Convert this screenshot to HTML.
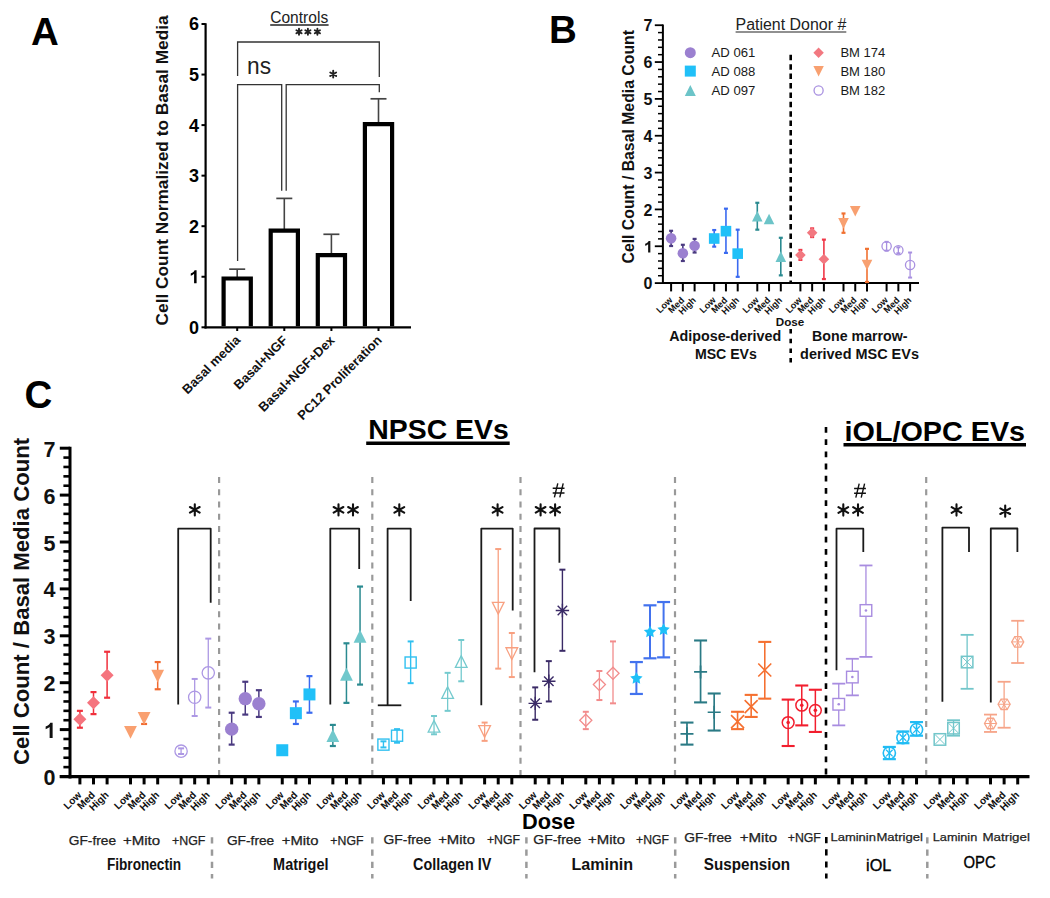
<!DOCTYPE html>
<html><head><meta charset="utf-8"><style>
html,body{margin:0;padding:0;background:#fff;}
svg{display:block;font-family:"Liberation Sans", sans-serif;}
</style></head><body>
<svg width="1050" height="898" viewBox="0 0 1050 898">
<rect width="1050" height="898" fill="#fff"/>
<text x="45" y="44.7" font-size="38.5" font-weight="bold" text-anchor="middle" fill="#000" >A</text>
<line x1="205.6" y1="23.2" x2="205.6" y2="328.4" stroke="#000" stroke-width="2.2" />
<line x1="201.5" y1="327.3" x2="205.6" y2="327.3" stroke="#000" stroke-width="2" />
<text x="199" y="333.7" font-size="18" font-weight="bold" text-anchor="end" fill="#000" >0</text>
<line x1="201.5" y1="276.75" x2="205.6" y2="276.75" stroke="#000" stroke-width="2" />
<path d="M194.09 283.15L196.59 283.15L196.59 270.26L194.61 270.26L194.18 271.05L193.42 271.92L192.2 272.78L190.76 273.43L190.76 275.73L192.02 275.19L193.2 274.51L194.09 273.86Z" fill="#000" stroke="none" stroke-width="1" />
<line x1="201.5" y1="226.2" x2="205.6" y2="226.2" stroke="#000" stroke-width="2" />
<text x="199" y="232.6" font-size="18" font-weight="bold" text-anchor="end" fill="#000" >2</text>
<line x1="201.5" y1="175.65" x2="205.6" y2="175.65" stroke="#000" stroke-width="2" />
<text x="199" y="182.05" font-size="18" font-weight="bold" text-anchor="end" fill="#000" >3</text>
<line x1="201.5" y1="125.1" x2="205.6" y2="125.1" stroke="#000" stroke-width="2" />
<text x="199" y="131.5" font-size="18" font-weight="bold" text-anchor="end" fill="#000" >4</text>
<line x1="201.5" y1="74.55" x2="205.6" y2="74.55" stroke="#000" stroke-width="2" />
<text x="199" y="80.95" font-size="18" font-weight="bold" text-anchor="end" fill="#000" >5</text>
<line x1="201.5" y1="24" x2="205.6" y2="24" stroke="#000" stroke-width="2" />
<text x="199" y="30.4" font-size="18" font-weight="bold" text-anchor="end" fill="#000" >6</text>
<line x1="204.5" y1="327.3" x2="411" y2="327.3" stroke="#000" stroke-width="2.2" />
<line x1="237.2" y1="327.3" x2="237.2" y2="331" stroke="#000" stroke-width="2" />
<line x1="237.2" y1="277.4" x2="237.2" y2="269.17" stroke="#444" stroke-width="1.6" />
<line x1="229.2" y1="269.17" x2="245.2" y2="269.17" stroke="#444" stroke-width="1.7" />
<rect x="223.6" y="278.5" width="27.2" height="47.5" fill="#fff"/>
<path d="M223.6 326.2V278.5H250.8V326.2" fill="none" stroke="#000" stroke-width="4.2" stroke-linejoin="miter"/>
<line x1="284.3" y1="327.3" x2="284.3" y2="331" stroke="#000" stroke-width="2" />
<line x1="284.3" y1="229.6" x2="284.3" y2="198.4" stroke="#444" stroke-width="1.6" />
<line x1="276.3" y1="198.4" x2="292.3" y2="198.4" stroke="#444" stroke-width="1.7" />
<rect x="270.7" y="230.7" width="27.2" height="95.3" fill="#fff"/>
<path d="M270.7 326.2V230.7H297.9V326.2" fill="none" stroke="#000" stroke-width="4.2" stroke-linejoin="miter"/>
<line x1="331.4" y1="327.3" x2="331.4" y2="331" stroke="#000" stroke-width="2" />
<line x1="331.4" y1="254" x2="331.4" y2="234.29" stroke="#444" stroke-width="1.6" />
<line x1="323.4" y1="234.29" x2="339.4" y2="234.29" stroke="#444" stroke-width="1.7" />
<rect x="317.8" y="255.1" width="27.2" height="70.9" fill="#fff"/>
<path d="M317.8 326.2V255.1H345V326.2" fill="none" stroke="#000" stroke-width="4.2" stroke-linejoin="miter"/>
<line x1="378.5" y1="327.3" x2="378.5" y2="331" stroke="#000" stroke-width="2" />
<line x1="378.5" y1="123" x2="378.5" y2="98.81" stroke="#444" stroke-width="1.6" />
<line x1="370.5" y1="98.81" x2="386.5" y2="98.81" stroke="#444" stroke-width="1.7" />
<rect x="364.9" y="124.1" width="27.2" height="201.9" fill="#fff"/>
<path d="M364.9 326.2V124.1H392.1V326.2" fill="none" stroke="#000" stroke-width="4.2" stroke-linejoin="miter"/>
<path d="M237.6 76V42H379.3V77" fill="none" stroke="#333" stroke-width="1.3" />
<path d="M237.6 261V84.6H281.7V190.7" fill="none" stroke="#333" stroke-width="1.3" />
<path d="M286.2 190.7V84.6H379.3V92.2" fill="none" stroke="#333" stroke-width="1.3" />
<text x="259" y="73.8" font-size="24" font-weight="normal" text-anchor="middle" fill="#222" textLength="24" lengthAdjust="spacingAndGlyphs" >ns</text>
<path d="M333.2 70.8L333.2 77.6M330.26 72.5L336.14 75.9M336.14 72.5L330.26 75.9" fill="none" stroke="#222" stroke-width="1.9" stroke-linecap="round"/>
<path d="M299 28.7L299 34.7M296.4 30.2L301.6 33.2M301.6 30.2L296.4 33.2" fill="none" stroke="#222" stroke-width="1.9" stroke-linecap="round"/>
<path d="M307.9 28.7L307.9 34.7M305.3 30.2L310.5 33.2M310.5 30.2L305.3 33.2" fill="none" stroke="#222" stroke-width="1.9" stroke-linecap="round"/>
<path d="M317.4 28.7L317.4 34.7M314.8 30.2L320 33.2M320 30.2L314.8 33.2" fill="none" stroke="#222" stroke-width="1.9" stroke-linecap="round"/>
<text x="299.2" y="23.1" font-size="16.5" font-weight="normal" text-anchor="middle" fill="#222" textLength="58" lengthAdjust="spacingAndGlyphs" >Controls</text>
<line x1="270.2" y1="25" x2="328.6" y2="25" stroke="#222" stroke-width="1.6" />
<text x="168.4" y="170.4" font-size="17" font-weight="bold" text-anchor="middle" fill="#111" textLength="310" lengthAdjust="spacingAndGlyphs" transform="rotate(-90 168.4 170.4)" >Cell Count Normalized to Basal Media</text>
<text x="241.2" y="341" font-size="13" font-weight="bold" text-anchor="end" fill="#111" transform="rotate(-45 241.2 341)" >Basal media</text>
<text x="288.3" y="341" font-size="13" font-weight="bold" text-anchor="end" fill="#111" transform="rotate(-45 288.3 341)" >Basal+NGF</text>
<text x="335.4" y="341" font-size="13" font-weight="bold" text-anchor="end" fill="#111" transform="rotate(-45 335.4 341)" >Basal+NGF+Dex</text>
<text x="382.5" y="341" font-size="13" font-weight="bold" text-anchor="end" fill="#111" transform="rotate(-45 382.5 341)" >PC12 Proliferation</text>
<text x="563" y="42.7" font-size="38.5" font-weight="bold" text-anchor="middle" fill="#000" >B</text>
<line x1="662.9" y1="24.5" x2="662.9" y2="284.1" stroke="#000" stroke-width="2" />
<line x1="654.8" y1="283.1" x2="662.9" y2="283.1" stroke="#000" stroke-width="1.8" />
<text x="652.5" y="289.3" font-size="16" font-weight="bold" text-anchor="end" fill="#111" >0</text>
<line x1="658" y1="275.73" x2="662.9" y2="275.73" stroke="#000" stroke-width="1.5" />
<line x1="658" y1="268.36" x2="662.9" y2="268.36" stroke="#000" stroke-width="1.5" />
<line x1="658" y1="261" x2="662.9" y2="261" stroke="#000" stroke-width="1.5" />
<line x1="658" y1="253.63" x2="662.9" y2="253.63" stroke="#000" stroke-width="1.5" />
<line x1="654.8" y1="246.26" x2="662.9" y2="246.26" stroke="#000" stroke-width="1.8" />
<path d="M648.13 252.46L650.36 252.46L650.36 241L648.6 241L648.21 241.71L647.54 242.48L646.45 243.24L645.17 243.82L645.17 245.87L646.29 245.39L647.35 244.78L648.13 244.2Z" fill="#111" stroke="none" stroke-width="1" />
<line x1="658" y1="238.89" x2="662.9" y2="238.89" stroke="#000" stroke-width="1.5" />
<line x1="658" y1="231.52" x2="662.9" y2="231.52" stroke="#000" stroke-width="1.5" />
<line x1="658" y1="224.16" x2="662.9" y2="224.16" stroke="#000" stroke-width="1.5" />
<line x1="658" y1="216.79" x2="662.9" y2="216.79" stroke="#000" stroke-width="1.5" />
<line x1="654.8" y1="209.42" x2="662.9" y2="209.42" stroke="#000" stroke-width="1.8" />
<text x="652.5" y="215.62" font-size="16" font-weight="bold" text-anchor="end" fill="#111" >2</text>
<line x1="658" y1="202.05" x2="662.9" y2="202.05" stroke="#000" stroke-width="1.5" />
<line x1="658" y1="194.68" x2="662.9" y2="194.68" stroke="#000" stroke-width="1.5" />
<line x1="658" y1="187.32" x2="662.9" y2="187.32" stroke="#000" stroke-width="1.5" />
<line x1="658" y1="179.95" x2="662.9" y2="179.95" stroke="#000" stroke-width="1.5" />
<line x1="654.8" y1="172.58" x2="662.9" y2="172.58" stroke="#000" stroke-width="1.8" />
<text x="652.5" y="178.78" font-size="16" font-weight="bold" text-anchor="end" fill="#111" >3</text>
<line x1="658" y1="165.21" x2="662.9" y2="165.21" stroke="#000" stroke-width="1.5" />
<line x1="658" y1="157.84" x2="662.9" y2="157.84" stroke="#000" stroke-width="1.5" />
<line x1="658" y1="150.48" x2="662.9" y2="150.48" stroke="#000" stroke-width="1.5" />
<line x1="658" y1="143.11" x2="662.9" y2="143.11" stroke="#000" stroke-width="1.5" />
<line x1="654.8" y1="135.74" x2="662.9" y2="135.74" stroke="#000" stroke-width="1.8" />
<text x="652.5" y="141.94" font-size="16" font-weight="bold" text-anchor="end" fill="#111" >4</text>
<line x1="658" y1="128.37" x2="662.9" y2="128.37" stroke="#000" stroke-width="1.5" />
<line x1="658" y1="121" x2="662.9" y2="121" stroke="#000" stroke-width="1.5" />
<line x1="658" y1="113.64" x2="662.9" y2="113.64" stroke="#000" stroke-width="1.5" />
<line x1="658" y1="106.27" x2="662.9" y2="106.27" stroke="#000" stroke-width="1.5" />
<line x1="654.8" y1="98.9" x2="662.9" y2="98.9" stroke="#000" stroke-width="1.8" />
<text x="652.5" y="105.1" font-size="16" font-weight="bold" text-anchor="end" fill="#111" >5</text>
<line x1="658" y1="91.53" x2="662.9" y2="91.53" stroke="#000" stroke-width="1.5" />
<line x1="658" y1="84.16" x2="662.9" y2="84.16" stroke="#000" stroke-width="1.5" />
<line x1="658" y1="76.8" x2="662.9" y2="76.8" stroke="#000" stroke-width="1.5" />
<line x1="658" y1="69.43" x2="662.9" y2="69.43" stroke="#000" stroke-width="1.5" />
<line x1="654.8" y1="62.06" x2="662.9" y2="62.06" stroke="#000" stroke-width="1.8" />
<text x="652.5" y="68.26" font-size="16" font-weight="bold" text-anchor="end" fill="#111" >6</text>
<line x1="658" y1="54.69" x2="662.9" y2="54.69" stroke="#000" stroke-width="1.5" />
<line x1="658" y1="47.32" x2="662.9" y2="47.32" stroke="#000" stroke-width="1.5" />
<line x1="658" y1="39.96" x2="662.9" y2="39.96" stroke="#000" stroke-width="1.5" />
<line x1="658" y1="32.59" x2="662.9" y2="32.59" stroke="#000" stroke-width="1.5" />
<line x1="654.8" y1="25.22" x2="662.9" y2="25.22" stroke="#000" stroke-width="1.8" />
<text x="652.5" y="31.42" font-size="16" font-weight="bold" text-anchor="end" fill="#111" >7</text>
<line x1="662" y1="283.1" x2="919" y2="283.1" stroke="#000" stroke-width="2" />
<line x1="671.1" y1="283.1" x2="671.1" y2="291.4" stroke="#000" stroke-width="2" />
<text x="673.1" y="300.8" font-size="9.2" font-weight="bold" text-anchor="end" fill="#111" transform="rotate(-45 673.1 300.8)" >Low</text>
<line x1="671.1" y1="246" x2="671.1" y2="230.79" stroke="#4a3a80" stroke-width="1.6" />
<line x1="669.1" y1="246" x2="673.1" y2="246" stroke="#4a3a80" stroke-width="2.2" />
<line x1="669.1" y1="230.79" x2="673.1" y2="230.79" stroke="#4a3a80" stroke-width="2.2" />
<circle cx="671.1" cy="238.34" r="5.3" fill="#9b80d0" stroke="none" stroke-width="1"/>
<line x1="682.85" y1="283.1" x2="682.85" y2="291.4" stroke="#000" stroke-width="2" />
<text x="684.85" y="300.8" font-size="9.2" font-weight="bold" text-anchor="end" fill="#111" transform="rotate(-45 684.85 300.8)" >Med</text>
<line x1="682.85" y1="261" x2="682.85" y2="244.79" stroke="#4a3a80" stroke-width="1.6" />
<line x1="680.85" y1="261" x2="684.85" y2="261" stroke="#4a3a80" stroke-width="2.2" />
<line x1="680.85" y1="244.79" x2="684.85" y2="244.79" stroke="#4a3a80" stroke-width="2.2" />
<circle cx="682.85" cy="253.26" r="5.3" fill="#9b80d0" stroke="none" stroke-width="1"/>
<line x1="694.6" y1="283.1" x2="694.6" y2="291.4" stroke="#000" stroke-width="2" />
<text x="696.6" y="300.8" font-size="9.2" font-weight="bold" text-anchor="end" fill="#111" transform="rotate(-45 696.6 300.8)" >High</text>
<line x1="694.6" y1="252.52" x2="694.6" y2="238.89" stroke="#4a3a80" stroke-width="1.6" />
<line x1="692.6" y1="252.52" x2="696.6" y2="252.52" stroke="#4a3a80" stroke-width="2.2" />
<line x1="692.6" y1="238.89" x2="696.6" y2="238.89" stroke="#4a3a80" stroke-width="2.2" />
<circle cx="694.6" cy="245.71" r="5.3" fill="#9b80d0" stroke="none" stroke-width="1"/>
<line x1="714.2" y1="283.1" x2="714.2" y2="291.4" stroke="#000" stroke-width="2" />
<text x="716.2" y="300.8" font-size="9.2" font-weight="bold" text-anchor="end" fill="#111" transform="rotate(-45 716.2 300.8)" >Low</text>
<line x1="714.2" y1="246.63" x2="714.2" y2="230.05" stroke="#3a6af0" stroke-width="1.6" />
<line x1="712.2" y1="246.63" x2="716.2" y2="246.63" stroke="#3a6af0" stroke-width="2.2" />
<line x1="712.2" y1="230.05" x2="716.2" y2="230.05" stroke="#3a6af0" stroke-width="2.2" />
<rect x="708.9" y="233.22" width="10.6" height="10.6" fill="#20c0f8" />
<line x1="725.95" y1="283.1" x2="725.95" y2="291.4" stroke="#000" stroke-width="2" />
<text x="727.95" y="300.8" font-size="9.2" font-weight="bold" text-anchor="end" fill="#111" transform="rotate(-45 727.95 300.8)" >Med</text>
<line x1="725.95" y1="252.89" x2="725.95" y2="208.68" stroke="#3a6af0" stroke-width="1.6" />
<line x1="723.95" y1="252.89" x2="727.95" y2="252.89" stroke="#3a6af0" stroke-width="2.2" />
<line x1="723.95" y1="208.68" x2="727.95" y2="208.68" stroke="#3a6af0" stroke-width="2.2" />
<rect x="720.65" y="225.86" width="10.6" height="10.6" fill="#20c0f8" />
<line x1="737.7" y1="283.1" x2="737.7" y2="291.4" stroke="#000" stroke-width="2" />
<text x="739.7" y="300.8" font-size="9.2" font-weight="bold" text-anchor="end" fill="#111" transform="rotate(-45 739.7 300.8)" >High</text>
<line x1="737.7" y1="276.84" x2="737.7" y2="229.68" stroke="#3a6af0" stroke-width="1.6" />
<line x1="735.7" y1="276.84" x2="739.7" y2="276.84" stroke="#3a6af0" stroke-width="2.2" />
<line x1="735.7" y1="229.68" x2="739.7" y2="229.68" stroke="#3a6af0" stroke-width="2.2" />
<rect x="732.4" y="248.33" width="10.6" height="10.6" fill="#20c0f8" />
<line x1="757.3" y1="283.1" x2="757.3" y2="291.4" stroke="#000" stroke-width="2" />
<text x="759.3" y="300.8" font-size="9.2" font-weight="bold" text-anchor="end" fill="#111" transform="rotate(-45 759.3 300.8)" >Low</text>
<line x1="757.3" y1="229.68" x2="757.3" y2="202.79" stroke="#2a8a90" stroke-width="1.6" />
<line x1="755.3" y1="229.68" x2="759.3" y2="229.68" stroke="#2a8a90" stroke-width="2.2" />
<line x1="755.3" y1="202.79" x2="759.3" y2="202.79" stroke="#2a8a90" stroke-width="2.2" />
<path d="M757.3 210.9L762.6 221.5L752 221.5Z" fill="#6cc4c8" stroke="none" stroke-width="1" />
<line x1="769.05" y1="283.1" x2="769.05" y2="291.4" stroke="#000" stroke-width="2" />
<text x="771.05" y="300.8" font-size="9.2" font-weight="bold" text-anchor="end" fill="#111" transform="rotate(-45 771.05 300.8)" >Med</text>
<path d="M769.05 213.7L774.35 224.3L763.75 224.3Z" fill="#6cc4c8" stroke="none" stroke-width="1" />
<line x1="780.8" y1="283.1" x2="780.8" y2="291.4" stroke="#000" stroke-width="2" />
<text x="782.8" y="300.8" font-size="9.2" font-weight="bold" text-anchor="end" fill="#111" transform="rotate(-45 782.8 300.8)" >High</text>
<line x1="780.8" y1="275.36" x2="780.8" y2="237.79" stroke="#2a8a90" stroke-width="1.6" />
<line x1="778.8" y1="275.36" x2="782.8" y2="275.36" stroke="#2a8a90" stroke-width="2.2" />
<line x1="778.8" y1="237.79" x2="782.8" y2="237.79" stroke="#2a8a90" stroke-width="2.2" />
<path d="M780.8 251.28L786.1 261.88L775.5 261.88Z" fill="#6cc4c8" stroke="none" stroke-width="1" />
<line x1="800.4" y1="283.1" x2="800.4" y2="291.4" stroke="#000" stroke-width="2" />
<text x="802.4" y="300.8" font-size="9.2" font-weight="bold" text-anchor="end" fill="#111" transform="rotate(-45 802.4 300.8)" >Low</text>
<line x1="800.4" y1="259.89" x2="800.4" y2="249.94" stroke="#f03848" stroke-width="1.6" />
<line x1="798.4" y1="259.89" x2="802.4" y2="259.89" stroke="#f03848" stroke-width="2.2" />
<line x1="798.4" y1="249.94" x2="802.4" y2="249.94" stroke="#f03848" stroke-width="2.2" />
<path d="M800.4 249.8L805.7 255.1L800.4 260.4L795.1 255.1Z" fill="#f27880" stroke="none" stroke-width="1" />
<line x1="812.15" y1="283.1" x2="812.15" y2="291.4" stroke="#000" stroke-width="2" />
<text x="814.15" y="300.8" font-size="9.2" font-weight="bold" text-anchor="end" fill="#111" transform="rotate(-45 814.15 300.8)" >Med</text>
<line x1="812.15" y1="237.05" x2="812.15" y2="228.39" stroke="#f03848" stroke-width="1.6" />
<line x1="810.15" y1="237.05" x2="814.15" y2="237.05" stroke="#f03848" stroke-width="2.2" />
<line x1="810.15" y1="228.39" x2="814.15" y2="228.39" stroke="#f03848" stroke-width="2.2" />
<path d="M812.15 227.51L817.45 232.81L812.15 238.11L806.85 232.81Z" fill="#f27880" stroke="none" stroke-width="1" />
<line x1="823.9" y1="283.1" x2="823.9" y2="291.4" stroke="#000" stroke-width="2" />
<text x="825.9" y="300.8" font-size="9.2" font-weight="bold" text-anchor="end" fill="#111" transform="rotate(-45 825.9 300.8)" >High</text>
<line x1="823.9" y1="279.05" x2="823.9" y2="239.63" stroke="#f03848" stroke-width="1.6" />
<line x1="821.9" y1="279.05" x2="825.9" y2="279.05" stroke="#f03848" stroke-width="2.2" />
<line x1="821.9" y1="239.63" x2="825.9" y2="239.63" stroke="#f03848" stroke-width="2.2" />
<path d="M823.9 253.85L829.2 259.15L823.9 264.45L818.6 259.15Z" fill="#f27880" stroke="none" stroke-width="1" />
<line x1="843.5" y1="283.1" x2="843.5" y2="291.4" stroke="#000" stroke-width="2" />
<text x="845.5" y="300.8" font-size="9.2" font-weight="bold" text-anchor="end" fill="#111" transform="rotate(-45 845.5 300.8)" >Low</text>
<line x1="843.5" y1="232.81" x2="843.5" y2="213.47" stroke="#f07030" stroke-width="1.6" />
<line x1="841.5" y1="232.81" x2="845.5" y2="232.81" stroke="#f07030" stroke-width="2.2" />
<line x1="841.5" y1="213.47" x2="845.5" y2="213.47" stroke="#f07030" stroke-width="2.2" />
<path d="M838.2 218.12L848.8 218.12L843.5 228.72Z" fill="#f8a070" stroke="none" stroke-width="1" />
<line x1="855.25" y1="283.1" x2="855.25" y2="291.4" stroke="#000" stroke-width="2" />
<text x="857.25" y="300.8" font-size="9.2" font-weight="bold" text-anchor="end" fill="#111" transform="rotate(-45 857.25 300.8)" >Med</text>
<path d="M849.95 205.96L860.55 205.96L855.25 216.56Z" fill="#f8a070" stroke="none" stroke-width="1" />
<line x1="867" y1="283.1" x2="867" y2="291.4" stroke="#000" stroke-width="2" />
<text x="869" y="300.8" font-size="9.2" font-weight="bold" text-anchor="end" fill="#111" transform="rotate(-45 869 300.8)" >High</text>
<line x1="867" y1="281.99" x2="867" y2="248.84" stroke="#f07030" stroke-width="1.6" />
<line x1="865" y1="281.99" x2="869" y2="281.99" stroke="#f07030" stroke-width="2.2" />
<line x1="865" y1="248.84" x2="869" y2="248.84" stroke="#f07030" stroke-width="2.2" />
<path d="M861.7 259.75L872.3 259.75L867 270.35Z" fill="#f8a070" stroke="none" stroke-width="1" />
<line x1="886.6" y1="283.1" x2="886.6" y2="291.4" stroke="#000" stroke-width="2" />
<text x="888.6" y="300.8" font-size="9.2" font-weight="bold" text-anchor="end" fill="#111" transform="rotate(-45 888.6 300.8)" >Low</text>
<circle cx="886.6" cy="246.26" r="4.65" fill="none" stroke="#a890e0" stroke-width="1.3"/>
<line x1="886.6" y1="250.68" x2="886.6" y2="241.84" stroke="#a890e0" stroke-width="1.3" />
<line x1="884.6" y1="250.68" x2="888.6" y2="250.68" stroke="#a890e0" stroke-width="2" />
<line x1="884.6" y1="241.84" x2="888.6" y2="241.84" stroke="#a890e0" stroke-width="2" />
<line x1="898.35" y1="283.1" x2="898.35" y2="291.4" stroke="#000" stroke-width="2" />
<text x="900.35" y="300.8" font-size="9.2" font-weight="bold" text-anchor="end" fill="#111" transform="rotate(-45 900.35 300.8)" >Med</text>
<circle cx="898.35" cy="250.31" r="4.65" fill="none" stroke="#a890e0" stroke-width="1.3"/>
<line x1="898.35" y1="253.26" x2="898.35" y2="247.37" stroke="#a890e0" stroke-width="1.3" />
<line x1="896.35" y1="253.26" x2="900.35" y2="253.26" stroke="#a890e0" stroke-width="2" />
<line x1="896.35" y1="247.37" x2="900.35" y2="247.37" stroke="#a890e0" stroke-width="2" />
<line x1="910.1" y1="283.1" x2="910.1" y2="291.4" stroke="#000" stroke-width="2" />
<text x="912.1" y="300.8" font-size="9.2" font-weight="bold" text-anchor="end" fill="#111" transform="rotate(-45 912.1 300.8)" >High</text>
<circle cx="910.1" cy="265.05" r="4.65" fill="none" stroke="#a890e0" stroke-width="1.3"/>
<line x1="910.1" y1="277.57" x2="910.1" y2="252.52" stroke="#a890e0" stroke-width="1.3" />
<line x1="908.1" y1="277.57" x2="912.1" y2="277.57" stroke="#a890e0" stroke-width="2" />
<line x1="908.1" y1="252.52" x2="912.1" y2="252.52" stroke="#a890e0" stroke-width="2" />
<line x1="790.7" y1="54.8" x2="790.7" y2="283" stroke="#000" stroke-width="2.6" stroke-dasharray="5.5 3.9"/>
<line x1="790.7" y1="329" x2="790.7" y2="362.5" stroke="#000" stroke-width="2.6" stroke-dasharray="4.5 5.2"/>
<text x="790.9" y="29.8" font-size="16" font-weight="normal" text-anchor="middle" fill="#222" textLength="110.7" lengthAdjust="spacingAndGlyphs" >Patient Donor #</text>
<line x1="735.6" y1="32" x2="846.3" y2="32" stroke="#222" stroke-width="1.1" />
<circle cx="690.3" cy="52.7" r="5.5" fill="#9b80d0" stroke="none" stroke-width="1"/>
<text x="711.6" y="57.2" font-size="13.6" font-weight="normal" text-anchor="start" fill="#1a1a1a" textLength="43.8" lengthAdjust="spacingAndGlyphs" >AD 061</text>
<path d="M818.6 47.6L823.8 52.8L818.6 58L813.4 52.8Z" fill="#f27880" stroke="none" stroke-width="1" />
<text x="840.4" y="57.2" font-size="13.6" font-weight="normal" text-anchor="start" fill="#1a1a1a" textLength="45" lengthAdjust="spacingAndGlyphs" >BM 174</text>
<rect x="684.8" y="65.6" width="11" height="11" fill="#20c0f8" />
<text x="711.6" y="75.6" font-size="13.6" font-weight="normal" text-anchor="start" fill="#1a1a1a" textLength="43.8" lengthAdjust="spacingAndGlyphs" >AD 088</text>
<path d="M813.4 66L823.8 66L818.6 76.4Z" fill="#f8a070" stroke="none" stroke-width="1" />
<text x="840.4" y="75.6" font-size="13.6" font-weight="normal" text-anchor="start" fill="#1a1a1a" textLength="45" lengthAdjust="spacingAndGlyphs" >BM 180</text>
<path d="M690.3 84.9L695.8 95.9L684.8 95.9Z" fill="#6cc4c8" stroke="none" stroke-width="1" />
<text x="711.6" y="94.9" font-size="13.6" font-weight="normal" text-anchor="start" fill="#1a1a1a" textLength="43.8" lengthAdjust="spacingAndGlyphs" >AD 097</text>
<circle cx="818.6" cy="90.5" r="4.55" fill="none" stroke="#a890e0" stroke-width="1.3"/>
<text x="840.4" y="94.9" font-size="13.6" font-weight="normal" text-anchor="start" fill="#1a1a1a" textLength="45" lengthAdjust="spacingAndGlyphs" >BM 182</text>
<text x="634" y="146.75" font-size="15.8" font-weight="bold" text-anchor="middle" fill="#111" textLength="233.5" lengthAdjust="spacingAndGlyphs" transform="rotate(-90 634 146.75)" >Cell Count / Basal Media Count</text>
<text x="790" y="325.7" font-size="10.8" font-weight="bold" text-anchor="middle" fill="#111" textLength="28.5" lengthAdjust="spacingAndGlyphs" >Dose</text>
<text x="725.2" y="341.4" font-size="14.3" font-weight="bold" text-anchor="middle" fill="#111" textLength="112" lengthAdjust="spacingAndGlyphs" >Adipose-derived</text>
<text x="725.9" y="358.6" font-size="14.3" font-weight="bold" text-anchor="middle" fill="#111" textLength="62" lengthAdjust="spacingAndGlyphs" >MSC EVs</text>
<text x="859.8" y="341.4" font-size="14.3" font-weight="bold" text-anchor="middle" fill="#111" textLength="95.6" lengthAdjust="spacingAndGlyphs" >Bone marrow-</text>
<text x="859.5" y="358.6" font-size="14.3" font-weight="bold" text-anchor="middle" fill="#111" textLength="118.9" lengthAdjust="spacingAndGlyphs" >derived MSC EVs</text>
<text x="38.4" y="408" font-size="38.5" font-weight="bold" text-anchor="middle" fill="#000" >C</text>
<text x="438.5" y="439.4" font-size="28.5" font-weight="bold" text-anchor="middle" fill="#000" textLength="140.4" lengthAdjust="spacingAndGlyphs" >NPSC EVs</text>
<line x1="366.2" y1="443.3" x2="509.7" y2="443.3" stroke="#000" stroke-width="3.4" />
<text x="934.8" y="441" font-size="28.5" font-weight="bold" text-anchor="middle" fill="#000" textLength="180.5" lengthAdjust="spacingAndGlyphs" >iOL/OPC EVs</text>
<line x1="843.5" y1="444.8" x2="1026" y2="444.8" stroke="#000" stroke-width="3.4" />
<line x1="219.1" y1="477.1" x2="219.1" y2="775" stroke="#999" stroke-width="2.2" stroke-dasharray="6 6.2"/>
<line x1="372.3" y1="477.1" x2="372.3" y2="775" stroke="#999" stroke-width="2.2" stroke-dasharray="6 6.2"/>
<line x1="520.5" y1="477.1" x2="520.5" y2="775" stroke="#999" stroke-width="2.2" stroke-dasharray="6 6.2"/>
<line x1="675" y1="477.1" x2="675" y2="775" stroke="#999" stroke-width="2.2" stroke-dasharray="6 6.2"/>
<line x1="826" y1="427" x2="826" y2="775" stroke="#000" stroke-width="2.6" stroke-dasharray="5.8 6.4"/>
<line x1="926.2" y1="477.1" x2="926.2" y2="775" stroke="#999" stroke-width="2.2" stroke-dasharray="6 6.2"/>
<line x1="70" y1="446.7" x2="70" y2="778.4" stroke="#000" stroke-width="3" />
<line x1="59.8" y1="776.5" x2="70" y2="776.5" stroke="#000" stroke-width="3" />
<text x="55.5" y="785" font-size="21.5" font-weight="bold" text-anchor="end" fill="#111" >0</text>
<line x1="63.4" y1="767.12" x2="70" y2="767.12" stroke="#000" stroke-width="2.6" />
<line x1="63.4" y1="757.74" x2="70" y2="757.74" stroke="#000" stroke-width="2.6" />
<line x1="63.4" y1="748.36" x2="70" y2="748.36" stroke="#000" stroke-width="2.6" />
<line x1="63.4" y1="738.98" x2="70" y2="738.98" stroke="#000" stroke-width="2.6" />
<line x1="59.8" y1="729.6" x2="70" y2="729.6" stroke="#000" stroke-width="3" />
<path d="M49.63 738.1L52.62 738.1L52.62 722.71L50.25 722.71L49.74 723.65L48.84 724.68L47.37 725.72L45.65 726.49L45.65 729.24L47.16 728.6L48.58 727.78L49.63 727.01Z" fill="#111" stroke="none" stroke-width="1" />
<line x1="63.4" y1="720.22" x2="70" y2="720.22" stroke="#000" stroke-width="2.6" />
<line x1="63.4" y1="710.84" x2="70" y2="710.84" stroke="#000" stroke-width="2.6" />
<line x1="63.4" y1="701.46" x2="70" y2="701.46" stroke="#000" stroke-width="2.6" />
<line x1="63.4" y1="692.08" x2="70" y2="692.08" stroke="#000" stroke-width="2.6" />
<line x1="59.8" y1="682.7" x2="70" y2="682.7" stroke="#000" stroke-width="3" />
<text x="55.5" y="691.2" font-size="21.5" font-weight="bold" text-anchor="end" fill="#111" >2</text>
<line x1="63.4" y1="673.32" x2="70" y2="673.32" stroke="#000" stroke-width="2.6" />
<line x1="63.4" y1="663.94" x2="70" y2="663.94" stroke="#000" stroke-width="2.6" />
<line x1="63.4" y1="654.56" x2="70" y2="654.56" stroke="#000" stroke-width="2.6" />
<line x1="63.4" y1="645.18" x2="70" y2="645.18" stroke="#000" stroke-width="2.6" />
<line x1="59.8" y1="635.8" x2="70" y2="635.8" stroke="#000" stroke-width="3" />
<text x="55.5" y="644.3" font-size="21.5" font-weight="bold" text-anchor="end" fill="#111" >3</text>
<line x1="63.4" y1="626.42" x2="70" y2="626.42" stroke="#000" stroke-width="2.6" />
<line x1="63.4" y1="617.04" x2="70" y2="617.04" stroke="#000" stroke-width="2.6" />
<line x1="63.4" y1="607.66" x2="70" y2="607.66" stroke="#000" stroke-width="2.6" />
<line x1="63.4" y1="598.28" x2="70" y2="598.28" stroke="#000" stroke-width="2.6" />
<line x1="59.8" y1="588.9" x2="70" y2="588.9" stroke="#000" stroke-width="3" />
<text x="55.5" y="597.4" font-size="21.5" font-weight="bold" text-anchor="end" fill="#111" >4</text>
<line x1="63.4" y1="579.52" x2="70" y2="579.52" stroke="#000" stroke-width="2.6" />
<line x1="63.4" y1="570.14" x2="70" y2="570.14" stroke="#000" stroke-width="2.6" />
<line x1="63.4" y1="560.76" x2="70" y2="560.76" stroke="#000" stroke-width="2.6" />
<line x1="63.4" y1="551.38" x2="70" y2="551.38" stroke="#000" stroke-width="2.6" />
<line x1="59.8" y1="542" x2="70" y2="542" stroke="#000" stroke-width="3" />
<text x="55.5" y="550.5" font-size="21.5" font-weight="bold" text-anchor="end" fill="#111" >5</text>
<line x1="63.4" y1="532.62" x2="70" y2="532.62" stroke="#000" stroke-width="2.6" />
<line x1="63.4" y1="523.24" x2="70" y2="523.24" stroke="#000" stroke-width="2.6" />
<line x1="63.4" y1="513.86" x2="70" y2="513.86" stroke="#000" stroke-width="2.6" />
<line x1="63.4" y1="504.48" x2="70" y2="504.48" stroke="#000" stroke-width="2.6" />
<line x1="59.8" y1="495.1" x2="70" y2="495.1" stroke="#000" stroke-width="3" />
<text x="55.5" y="503.6" font-size="21.5" font-weight="bold" text-anchor="end" fill="#111" >6</text>
<line x1="63.4" y1="485.72" x2="70" y2="485.72" stroke="#000" stroke-width="2.6" />
<line x1="63.4" y1="476.34" x2="70" y2="476.34" stroke="#000" stroke-width="2.6" />
<line x1="63.4" y1="466.96" x2="70" y2="466.96" stroke="#000" stroke-width="2.6" />
<line x1="63.4" y1="457.58" x2="70" y2="457.58" stroke="#000" stroke-width="2.6" />
<line x1="59.8" y1="448.2" x2="70" y2="448.2" stroke="#000" stroke-width="3" />
<text x="55.5" y="456.7" font-size="21.5" font-weight="bold" text-anchor="end" fill="#111" >7</text>
<line x1="59.8" y1="776.7" x2="1029.5" y2="776.7" stroke="#000" stroke-width="3.3" />
<line x1="79.9" y1="776.7" x2="79.9" y2="784.4" stroke="#000" stroke-width="3" />
<text x="82.1" y="795.6" font-size="10.2" font-weight="bold" text-anchor="end" fill="#111" transform="rotate(-45 82.1 795.6)" >Low</text>
<line x1="79.9" y1="727.72" x2="79.9" y2="710.84" stroke="#f0303c" stroke-width="1.5" />
<line x1="76.9" y1="727.72" x2="82.9" y2="727.72" stroke="#f0303c" stroke-width="2.2" />
<line x1="76.9" y1="710.84" x2="82.9" y2="710.84" stroke="#f0303c" stroke-width="2.2" />
<path d="M79.9 712.78L86.4 719.28L79.9 725.78L73.4 719.28Z" fill="#f5747e" stroke="none" stroke-width="1" />
<line x1="93.5" y1="776.7" x2="93.5" y2="784.4" stroke="#000" stroke-width="3" />
<text x="95.7" y="795.6" font-size="10.2" font-weight="bold" text-anchor="end" fill="#111" transform="rotate(-45 95.7 795.6)" >Med</text>
<line x1="93.5" y1="714.12" x2="93.5" y2="692.08" stroke="#f0303c" stroke-width="1.5" />
<line x1="90.5" y1="714.12" x2="96.5" y2="714.12" stroke="#f0303c" stroke-width="2.2" />
<line x1="90.5" y1="692.08" x2="96.5" y2="692.08" stroke="#f0303c" stroke-width="2.2" />
<path d="M93.5 696.37L100 702.87L93.5 709.37L87 702.87Z" fill="#f5747e" stroke="none" stroke-width="1" />
<line x1="107.1" y1="776.7" x2="107.1" y2="784.4" stroke="#000" stroke-width="3" />
<text x="109.3" y="795.6" font-size="10.2" font-weight="bold" text-anchor="end" fill="#111" transform="rotate(-45 109.3 795.6)" >High</text>
<line x1="107.1" y1="697.71" x2="107.1" y2="651.75" stroke="#f0303c" stroke-width="1.5" />
<line x1="104.1" y1="697.71" x2="110.1" y2="697.71" stroke="#f0303c" stroke-width="2.2" />
<line x1="104.1" y1="651.75" x2="110.1" y2="651.75" stroke="#f0303c" stroke-width="2.2" />
<path d="M107.1 668.7L113.6 675.2L107.1 681.7L100.6 675.2Z" fill="#f5747e" stroke="none" stroke-width="1" />
<line x1="130.49" y1="776.7" x2="130.49" y2="784.4" stroke="#000" stroke-width="3" />
<text x="132.69" y="795.6" font-size="10.2" font-weight="bold" text-anchor="end" fill="#111" transform="rotate(-45 132.69 795.6)" >Low</text>
<path d="M124.09 726.01L136.89 726.01L130.49 738.81Z" fill="#f9a070" stroke="none" stroke-width="1" />
<line x1="144.09" y1="776.7" x2="144.09" y2="784.4" stroke="#000" stroke-width="3" />
<text x="146.29" y="795.6" font-size="10.2" font-weight="bold" text-anchor="end" fill="#111" transform="rotate(-45 146.29 795.6)" >Med</text>
<line x1="144.09" y1="723.97" x2="144.09" y2="714.12" stroke="#f06a30" stroke-width="1.5" />
<line x1="141.09" y1="723.97" x2="147.09" y2="723.97" stroke="#f06a30" stroke-width="2.2" />
<line x1="141.09" y1="714.12" x2="147.09" y2="714.12" stroke="#f06a30" stroke-width="2.2" />
<path d="M137.69 711.94L150.49 711.94L144.09 724.74Z" fill="#f9a070" stroke="none" stroke-width="1" />
<line x1="157.69" y1="776.7" x2="157.69" y2="784.4" stroke="#000" stroke-width="3" />
<text x="159.89" y="795.6" font-size="10.2" font-weight="bold" text-anchor="end" fill="#111" transform="rotate(-45 159.89 795.6)" >High</text>
<line x1="157.69" y1="689.27" x2="157.69" y2="662.06" stroke="#f06a30" stroke-width="1.5" />
<line x1="154.69" y1="689.27" x2="160.69" y2="689.27" stroke="#f06a30" stroke-width="2.2" />
<line x1="154.69" y1="662.06" x2="160.69" y2="662.06" stroke="#f06a30" stroke-width="2.2" />
<path d="M151.29 669.73L164.09 669.73L157.69 682.53Z" fill="#f9a070" stroke="none" stroke-width="1" />
<line x1="181.08" y1="776.7" x2="181.08" y2="784.4" stroke="#000" stroke-width="3" />
<text x="183.28" y="795.6" font-size="10.2" font-weight="bold" text-anchor="end" fill="#111" transform="rotate(-45 183.28 795.6)" >Low</text>
<circle cx="181.08" cy="751.17" r="6.15" fill="none" stroke="#ad98e4" stroke-width="1.3"/>
<line x1="181.08" y1="753.99" x2="181.08" y2="748.36" stroke="#ad98e4" stroke-width="1.3" />
<line x1="178.08" y1="753.99" x2="184.08" y2="753.99" stroke="#ad98e4" stroke-width="2" />
<line x1="178.08" y1="748.36" x2="184.08" y2="748.36" stroke="#ad98e4" stroke-width="2" />
<line x1="194.68" y1="776.7" x2="194.68" y2="784.4" stroke="#000" stroke-width="3" />
<text x="196.88" y="795.6" font-size="10.2" font-weight="bold" text-anchor="end" fill="#111" transform="rotate(-45 196.88 795.6)" >Med</text>
<circle cx="194.68" cy="697.24" r="6.15" fill="none" stroke="#ad98e4" stroke-width="1.3"/>
<line x1="194.68" y1="716" x2="194.68" y2="678.95" stroke="#ad98e4" stroke-width="1.3" />
<line x1="191.68" y1="716" x2="197.68" y2="716" stroke="#ad98e4" stroke-width="2" />
<line x1="191.68" y1="678.95" x2="197.68" y2="678.95" stroke="#ad98e4" stroke-width="2" />
<line x1="208.28" y1="776.7" x2="208.28" y2="784.4" stroke="#000" stroke-width="3" />
<text x="210.48" y="795.6" font-size="10.2" font-weight="bold" text-anchor="end" fill="#111" transform="rotate(-45 210.48 795.6)" >High</text>
<circle cx="208.28" cy="672.85" r="6.15" fill="none" stroke="#ad98e4" stroke-width="1.3"/>
<line x1="208.28" y1="707.56" x2="208.28" y2="638.61" stroke="#ad98e4" stroke-width="1.3" />
<line x1="205.28" y1="707.56" x2="211.28" y2="707.56" stroke="#ad98e4" stroke-width="2" />
<line x1="205.28" y1="638.61" x2="211.28" y2="638.61" stroke="#ad98e4" stroke-width="2" />
<line x1="231.67" y1="776.7" x2="231.67" y2="784.4" stroke="#000" stroke-width="3" />
<text x="233.87" y="795.6" font-size="10.2" font-weight="bold" text-anchor="end" fill="#111" transform="rotate(-45 233.87 795.6)" >Low</text>
<line x1="231.67" y1="744.61" x2="231.67" y2="712.72" stroke="#4a3a80" stroke-width="1.5" />
<line x1="228.67" y1="744.61" x2="234.67" y2="744.61" stroke="#4a3a80" stroke-width="2.2" />
<line x1="228.67" y1="712.72" x2="234.67" y2="712.72" stroke="#4a3a80" stroke-width="2.2" />
<circle cx="231.67" cy="729.13" r="6.7" fill="#9b80d0" stroke="none" stroke-width="1"/>
<line x1="245.27" y1="776.7" x2="245.27" y2="784.4" stroke="#000" stroke-width="3" />
<text x="247.47" y="795.6" font-size="10.2" font-weight="bold" text-anchor="end" fill="#111" transform="rotate(-45 247.47 795.6)" >Med</text>
<line x1="245.27" y1="714.59" x2="245.27" y2="681.76" stroke="#4a3a80" stroke-width="1.5" />
<line x1="242.27" y1="714.59" x2="248.27" y2="714.59" stroke="#4a3a80" stroke-width="2.2" />
<line x1="242.27" y1="681.76" x2="248.27" y2="681.76" stroke="#4a3a80" stroke-width="2.2" />
<circle cx="245.27" cy="698.65" r="6.7" fill="#9b80d0" stroke="none" stroke-width="1"/>
<line x1="258.87" y1="776.7" x2="258.87" y2="784.4" stroke="#000" stroke-width="3" />
<text x="261.07" y="795.6" font-size="10.2" font-weight="bold" text-anchor="end" fill="#111" transform="rotate(-45 261.07 795.6)" >High</text>
<line x1="258.87" y1="716.94" x2="258.87" y2="690.2" stroke="#4a3a80" stroke-width="1.5" />
<line x1="255.87" y1="716.94" x2="261.87" y2="716.94" stroke="#4a3a80" stroke-width="2.2" />
<line x1="255.87" y1="690.2" x2="261.87" y2="690.2" stroke="#4a3a80" stroke-width="2.2" />
<circle cx="258.87" cy="703.81" r="6.7" fill="#9b80d0" stroke="none" stroke-width="1"/>
<line x1="282.26" y1="776.7" x2="282.26" y2="784.4" stroke="#000" stroke-width="3" />
<text x="284.46" y="795.6" font-size="10.2" font-weight="bold" text-anchor="end" fill="#111" transform="rotate(-45 284.46 795.6)" >Low</text>
<rect x="276.26" y="744.24" width="12" height="12" fill="#20c0f8" />
<line x1="295.86" y1="776.7" x2="295.86" y2="784.4" stroke="#000" stroke-width="3" />
<text x="298.06" y="795.6" font-size="10.2" font-weight="bold" text-anchor="end" fill="#111" transform="rotate(-45 298.06 795.6)" >Med</text>
<line x1="295.86" y1="723.97" x2="295.86" y2="701.46" stroke="#3a6af0" stroke-width="1.5" />
<line x1="292.86" y1="723.97" x2="298.86" y2="723.97" stroke="#3a6af0" stroke-width="2.2" />
<line x1="292.86" y1="701.46" x2="298.86" y2="701.46" stroke="#3a6af0" stroke-width="2.2" />
<rect x="289.86" y="707.18" width="12" height="12" fill="#20c0f8" />
<line x1="309.46" y1="776.7" x2="309.46" y2="784.4" stroke="#000" stroke-width="3" />
<text x="311.66" y="795.6" font-size="10.2" font-weight="bold" text-anchor="end" fill="#111" transform="rotate(-45 311.66 795.6)" >High</text>
<line x1="309.46" y1="712.72" x2="309.46" y2="676.13" stroke="#3a6af0" stroke-width="1.5" />
<line x1="306.46" y1="712.72" x2="312.46" y2="712.72" stroke="#3a6af0" stroke-width="2.2" />
<line x1="306.46" y1="676.13" x2="312.46" y2="676.13" stroke="#3a6af0" stroke-width="2.2" />
<rect x="303.46" y="688.42" width="12" height="12" fill="#20c0f8" />
<line x1="332.85" y1="776.7" x2="332.85" y2="784.4" stroke="#000" stroke-width="3" />
<text x="335.05" y="795.6" font-size="10.2" font-weight="bold" text-anchor="end" fill="#111" transform="rotate(-45 335.05 795.6)" >Low</text>
<line x1="332.85" y1="746.01" x2="332.85" y2="724.91" stroke="#2a8a90" stroke-width="1.5" />
<line x1="329.85" y1="746.01" x2="335.85" y2="746.01" stroke="#2a8a90" stroke-width="2.2" />
<line x1="329.85" y1="724.91" x2="335.85" y2="724.91" stroke="#2a8a90" stroke-width="2.2" />
<path d="M332.85 729.3L339.25 742.1L326.45 742.1Z" fill="#70c8cc" stroke="none" stroke-width="1" />
<line x1="346.45" y1="776.7" x2="346.45" y2="784.4" stroke="#000" stroke-width="3" />
<text x="348.65" y="795.6" font-size="10.2" font-weight="bold" text-anchor="end" fill="#111" transform="rotate(-45 348.65 795.6)" >Med</text>
<line x1="346.45" y1="702.87" x2="346.45" y2="643.3" stroke="#2a8a90" stroke-width="1.5" />
<line x1="343.45" y1="702.87" x2="349.45" y2="702.87" stroke="#2a8a90" stroke-width="2.2" />
<line x1="343.45" y1="643.3" x2="349.45" y2="643.3" stroke="#2a8a90" stroke-width="2.2" />
<path d="M346.45 667.86L352.85 680.66L340.05 680.66Z" fill="#70c8cc" stroke="none" stroke-width="1" />
<line x1="360.05" y1="776.7" x2="360.05" y2="784.4" stroke="#000" stroke-width="3" />
<text x="362.25" y="795.6" font-size="10.2" font-weight="bold" text-anchor="end" fill="#111" transform="rotate(-45 362.25 795.6)" >High</text>
<line x1="360.05" y1="684.58" x2="360.05" y2="586.56" stroke="#2a8a90" stroke-width="1.5" />
<line x1="357.05" y1="684.58" x2="363.05" y2="684.58" stroke="#2a8a90" stroke-width="2.2" />
<line x1="357.05" y1="586.56" x2="363.05" y2="586.56" stroke="#2a8a90" stroke-width="2.2" />
<path d="M360.05 629.87L366.45 642.67L353.65 642.67Z" fill="#70c8cc" stroke="none" stroke-width="1" />
<line x1="383.44" y1="776.7" x2="383.44" y2="784.4" stroke="#000" stroke-width="3" />
<text x="385.64" y="795.6" font-size="10.2" font-weight="bold" text-anchor="end" fill="#111" transform="rotate(-45 385.64 795.6)" >Low</text>
<rect x="377.89" y="739.06" width="11.1" height="11.1" fill="none" stroke="#30c0f0" stroke-width="1.4"/>
<line x1="383.44" y1="747.42" x2="383.44" y2="741.33" stroke="#30c0f0" stroke-width="1.4" />
<line x1="380.44" y1="747.42" x2="386.44" y2="747.42" stroke="#30c0f0" stroke-width="2" />
<line x1="380.44" y1="741.33" x2="386.44" y2="741.33" stroke="#30c0f0" stroke-width="2" />
<line x1="397.04" y1="776.7" x2="397.04" y2="784.4" stroke="#000" stroke-width="3" />
<text x="399.24" y="795.6" font-size="10.2" font-weight="bold" text-anchor="end" fill="#111" transform="rotate(-45 399.24 795.6)" >Med</text>
<rect x="391.49" y="730.15" width="11.1" height="11.1" fill="none" stroke="#30c0f0" stroke-width="1.4"/>
<line x1="397.04" y1="742.73" x2="397.04" y2="729.13" stroke="#30c0f0" stroke-width="1.4" />
<line x1="394.04" y1="742.73" x2="400.04" y2="742.73" stroke="#30c0f0" stroke-width="2" />
<line x1="394.04" y1="729.13" x2="400.04" y2="729.13" stroke="#30c0f0" stroke-width="2" />
<line x1="410.64" y1="776.7" x2="410.64" y2="784.4" stroke="#000" stroke-width="3" />
<text x="412.84" y="795.6" font-size="10.2" font-weight="bold" text-anchor="end" fill="#111" transform="rotate(-45 412.84 795.6)" >High</text>
<rect x="405.09" y="656.98" width="11.1" height="11.1" fill="none" stroke="#30c0f0" stroke-width="1.4"/>
<line x1="410.64" y1="683.17" x2="410.64" y2="641.43" stroke="#30c0f0" stroke-width="1.4" />
<line x1="407.64" y1="683.17" x2="413.64" y2="683.17" stroke="#30c0f0" stroke-width="2" />
<line x1="407.64" y1="641.43" x2="413.64" y2="641.43" stroke="#30c0f0" stroke-width="2" />
<line x1="434.03" y1="776.7" x2="434.03" y2="784.4" stroke="#000" stroke-width="3" />
<text x="436.23" y="795.6" font-size="10.2" font-weight="bold" text-anchor="end" fill="#111" transform="rotate(-45 436.23 795.6)" >Low</text>
<path d="M434.03 720.47L439.88 732.17L428.18 732.17Z" fill="none" stroke="#74cace" stroke-width="1.3" />
<line x1="434.03" y1="734.29" x2="434.03" y2="716" stroke="#74cace" stroke-width="1.3" />
<line x1="431.03" y1="734.29" x2="437.03" y2="734.29" stroke="#74cace" stroke-width="2" />
<line x1="431.03" y1="716" x2="437.03" y2="716" stroke="#74cace" stroke-width="2" />
<line x1="447.63" y1="776.7" x2="447.63" y2="784.4" stroke="#000" stroke-width="3" />
<text x="449.83" y="795.6" font-size="10.2" font-weight="bold" text-anchor="end" fill="#111" transform="rotate(-45 449.83 795.6)" >Med</text>
<path d="M447.63 686.7L453.48 698.4L441.78 698.4Z" fill="none" stroke="#74cace" stroke-width="1.3" />
<line x1="447.63" y1="710.84" x2="447.63" y2="672.85" stroke="#74cace" stroke-width="1.3" />
<line x1="444.63" y1="710.84" x2="450.63" y2="710.84" stroke="#74cace" stroke-width="2" />
<line x1="444.63" y1="672.85" x2="450.63" y2="672.85" stroke="#74cace" stroke-width="2" />
<line x1="461.23" y1="776.7" x2="461.23" y2="784.4" stroke="#000" stroke-width="3" />
<text x="463.43" y="795.6" font-size="10.2" font-weight="bold" text-anchor="end" fill="#111" transform="rotate(-45 463.43 795.6)" >High</text>
<path d="M461.23 655.75L467.08 667.45L455.38 667.45Z" fill="none" stroke="#74cace" stroke-width="1.3" />
<line x1="461.23" y1="681.29" x2="461.23" y2="640.02" stroke="#74cace" stroke-width="1.3" />
<line x1="458.23" y1="681.29" x2="464.23" y2="681.29" stroke="#74cace" stroke-width="2" />
<line x1="458.23" y1="640.02" x2="464.23" y2="640.02" stroke="#74cace" stroke-width="2" />
<line x1="484.62" y1="776.7" x2="484.62" y2="784.4" stroke="#000" stroke-width="3" />
<text x="486.82" y="795.6" font-size="10.2" font-weight="bold" text-anchor="end" fill="#111" transform="rotate(-45 486.82 795.6)" >Low</text>
<path d="M478.77 725.63L490.47 725.63L484.62 737.33Z" fill="none" stroke="#f8a080" stroke-width="1.3" />
<line x1="484.62" y1="740.86" x2="484.62" y2="722.57" stroke="#f8a080" stroke-width="1.3" />
<line x1="481.62" y1="740.86" x2="487.62" y2="740.86" stroke="#f8a080" stroke-width="2" />
<line x1="481.62" y1="722.57" x2="487.62" y2="722.57" stroke="#f8a080" stroke-width="2" />
<line x1="498.22" y1="776.7" x2="498.22" y2="784.4" stroke="#000" stroke-width="3" />
<text x="500.42" y="795.6" font-size="10.2" font-weight="bold" text-anchor="end" fill="#111" transform="rotate(-45 500.42 795.6)" >Med</text>
<path d="M492.37 602.28L504.07 602.28L498.22 613.98Z" fill="none" stroke="#f8a080" stroke-width="1.3" />
<line x1="498.22" y1="668.63" x2="498.22" y2="549.04" stroke="#f8a080" stroke-width="1.3" />
<line x1="495.22" y1="668.63" x2="501.22" y2="668.63" stroke="#f8a080" stroke-width="2" />
<line x1="495.22" y1="549.04" x2="501.22" y2="549.04" stroke="#f8a080" stroke-width="2" />
<line x1="511.82" y1="776.7" x2="511.82" y2="784.4" stroke="#000" stroke-width="3" />
<text x="514.02" y="795.6" font-size="10.2" font-weight="bold" text-anchor="end" fill="#111" transform="rotate(-45 514.02 795.6)" >High</text>
<path d="M505.97 647.77L517.67 647.77L511.82 659.47Z" fill="none" stroke="#f8a080" stroke-width="1.3" />
<line x1="511.82" y1="677.07" x2="511.82" y2="632.99" stroke="#f8a080" stroke-width="1.3" />
<line x1="508.82" y1="677.07" x2="514.82" y2="677.07" stroke="#f8a080" stroke-width="2" />
<line x1="508.82" y1="632.99" x2="514.82" y2="632.99" stroke="#f8a080" stroke-width="2" />
<line x1="535.21" y1="776.7" x2="535.21" y2="784.4" stroke="#000" stroke-width="3" />
<text x="537.41" y="795.6" font-size="10.2" font-weight="bold" text-anchor="end" fill="#111" transform="rotate(-45 537.41 795.6)" >Low</text>
<path d="M528.51 703.34L541.91 703.34M530.47 698.6L539.95 708.07M535.21 696.64L535.21 710.04M539.95 698.6L530.47 708.07" fill="none" stroke="#3a2a66" stroke-width="1.4" />
<line x1="535.21" y1="719.75" x2="535.21" y2="687.39" stroke="#3a2a66" stroke-width="1.4" />
<line x1="532.21" y1="719.75" x2="538.21" y2="719.75" stroke="#3a2a66" stroke-width="2" />
<line x1="532.21" y1="687.39" x2="538.21" y2="687.39" stroke="#3a2a66" stroke-width="2" />
<line x1="548.81" y1="776.7" x2="548.81" y2="784.4" stroke="#000" stroke-width="3" />
<text x="551.01" y="795.6" font-size="10.2" font-weight="bold" text-anchor="end" fill="#111" transform="rotate(-45 551.01 795.6)" >Med</text>
<path d="M542.11 681.29L555.51 681.29M544.07 676.56L553.55 686.03M548.81 674.59L548.81 687.99M553.55 676.56L544.07 686.03" fill="none" stroke="#3a2a66" stroke-width="1.4" />
<line x1="548.81" y1="701.46" x2="548.81" y2="661.13" stroke="#3a2a66" stroke-width="1.4" />
<line x1="545.81" y1="701.46" x2="551.81" y2="701.46" stroke="#3a2a66" stroke-width="2" />
<line x1="545.81" y1="661.13" x2="551.81" y2="661.13" stroke="#3a2a66" stroke-width="2" />
<line x1="562.41" y1="776.7" x2="562.41" y2="784.4" stroke="#000" stroke-width="3" />
<text x="564.61" y="795.6" font-size="10.2" font-weight="bold" text-anchor="end" fill="#111" transform="rotate(-45 564.61 795.6)" >High</text>
<path d="M555.71 610.47L569.11 610.47M557.67 605.74L567.15 615.21M562.41 603.77L562.41 617.17M567.15 605.74L557.67 615.21" fill="none" stroke="#3a2a66" stroke-width="1.4" />
<line x1="562.41" y1="650.81" x2="562.41" y2="569.67" stroke="#3a2a66" stroke-width="1.4" />
<line x1="559.41" y1="650.81" x2="565.41" y2="650.81" stroke="#3a2a66" stroke-width="2" />
<line x1="559.41" y1="569.67" x2="565.41" y2="569.67" stroke="#3a2a66" stroke-width="2" />
<line x1="585.8" y1="776.7" x2="585.8" y2="784.4" stroke="#000" stroke-width="3" />
<text x="588" y="795.6" font-size="10.2" font-weight="bold" text-anchor="end" fill="#111" transform="rotate(-45 588 795.6)" >Low</text>
<path d="M585.8 714.17L591.85 720.22L585.8 726.27L579.75 720.22Z" fill="none" stroke="#f28c8c" stroke-width="1.3" />
<line x1="585.8" y1="729.13" x2="585.8" y2="711.78" stroke="#f28c8c" stroke-width="1.3" />
<line x1="582.8" y1="729.13" x2="588.8" y2="729.13" stroke="#f28c8c" stroke-width="2" />
<line x1="582.8" y1="711.78" x2="588.8" y2="711.78" stroke="#f28c8c" stroke-width="2" />
<line x1="599.4" y1="776.7" x2="599.4" y2="784.4" stroke="#000" stroke-width="3" />
<text x="601.6" y="795.6" font-size="10.2" font-weight="bold" text-anchor="end" fill="#111" transform="rotate(-45 601.6 795.6)" >Med</text>
<path d="M599.4 678.53L605.45 684.58L599.4 690.63L593.35 684.58Z" fill="none" stroke="#f28c8c" stroke-width="1.3" />
<line x1="599.4" y1="700.05" x2="599.4" y2="670.98" stroke="#f28c8c" stroke-width="1.3" />
<line x1="596.4" y1="700.05" x2="602.4" y2="700.05" stroke="#f28c8c" stroke-width="2" />
<line x1="596.4" y1="670.98" x2="602.4" y2="670.98" stroke="#f28c8c" stroke-width="2" />
<line x1="613" y1="776.7" x2="613" y2="784.4" stroke="#000" stroke-width="3" />
<text x="615.2" y="795.6" font-size="10.2" font-weight="bold" text-anchor="end" fill="#111" transform="rotate(-45 615.2 795.6)" >High</text>
<path d="M613 667.27L619.05 673.32L613 679.37L606.95 673.32Z" fill="none" stroke="#f28c8c" stroke-width="1.3" />
<line x1="613" y1="703.34" x2="613" y2="641.43" stroke="#f28c8c" stroke-width="1.3" />
<line x1="610" y1="703.34" x2="616" y2="703.34" stroke="#f28c8c" stroke-width="2" />
<line x1="610" y1="641.43" x2="616" y2="641.43" stroke="#f28c8c" stroke-width="2" />
<line x1="636.39" y1="776.7" x2="636.39" y2="784.4" stroke="#000" stroke-width="3" />
<text x="638.59" y="795.6" font-size="10.2" font-weight="bold" text-anchor="end" fill="#111" transform="rotate(-45 638.59 795.6)" >Low</text>
<line x1="636.39" y1="693.96" x2="636.39" y2="662.06" stroke="#4272ee" stroke-width="2" />
<line x1="629.89" y1="693.96" x2="642.89" y2="693.96" stroke="#4272ee" stroke-width="2.2" />
<line x1="629.89" y1="662.06" x2="642.89" y2="662.06" stroke="#4272ee" stroke-width="2.2" />
<path d="M636.39 671.98L638.3 675.85L642.57 676.47L639.48 679.48L640.21 683.74L636.39 681.73L632.57 683.74L633.3 679.48L630.21 676.47L634.48 675.85Z" fill="#1ec0f8" stroke="none" stroke-width="1" />
<line x1="649.99" y1="776.7" x2="649.99" y2="784.4" stroke="#000" stroke-width="3" />
<text x="652.19" y="795.6" font-size="10.2" font-weight="bold" text-anchor="end" fill="#111" transform="rotate(-45 652.19 795.6)" >Med</text>
<line x1="649.99" y1="658.31" x2="649.99" y2="605.32" stroke="#4272ee" stroke-width="2" />
<line x1="643.49" y1="658.31" x2="656.49" y2="658.31" stroke="#4272ee" stroke-width="2.2" />
<line x1="643.49" y1="605.32" x2="656.49" y2="605.32" stroke="#4272ee" stroke-width="2.2" />
<path d="M649.99 625.55L651.9 629.42L656.17 630.04L653.08 633.05L653.81 637.31L649.99 635.3L646.17 637.31L646.9 633.05L643.81 630.04L648.08 629.42Z" fill="#1ec0f8" stroke="none" stroke-width="1" />
<line x1="663.59" y1="776.7" x2="663.59" y2="784.4" stroke="#000" stroke-width="3" />
<text x="665.79" y="795.6" font-size="10.2" font-weight="bold" text-anchor="end" fill="#111" transform="rotate(-45 665.79 795.6)" >High</text>
<line x1="663.59" y1="657.37" x2="663.59" y2="602.03" stroke="#4272ee" stroke-width="2" />
<line x1="657.09" y1="657.37" x2="670.09" y2="657.37" stroke="#4272ee" stroke-width="2.2" />
<line x1="657.09" y1="602.03" x2="670.09" y2="602.03" stroke="#4272ee" stroke-width="2.2" />
<path d="M663.59 623.2L665.5 627.07L669.77 627.69L666.68 630.71L667.41 634.96L663.59 632.95L659.77 634.96L660.5 630.71L657.41 627.69L661.68 627.07Z" fill="#1ec0f8" stroke="none" stroke-width="1" />
<line x1="686.98" y1="776.7" x2="686.98" y2="784.4" stroke="#000" stroke-width="3" />
<text x="689.18" y="795.6" font-size="10.2" font-weight="bold" text-anchor="end" fill="#111" transform="rotate(-45 689.18 795.6)" >Low</text>
<path d="M680.48 733.82L693.48 733.82M686.98 727.32L686.98 740.32" fill="none" stroke="#2a7a85" stroke-width="1.7" />
<line x1="686.98" y1="744.61" x2="686.98" y2="722.57" stroke="#2a7a85" stroke-width="1.7" />
<line x1="680.48" y1="744.61" x2="693.48" y2="744.61" stroke="#2a7a85" stroke-width="2.1" />
<line x1="680.48" y1="722.57" x2="693.48" y2="722.57" stroke="#2a7a85" stroke-width="2.1" />
<line x1="700.58" y1="776.7" x2="700.58" y2="784.4" stroke="#000" stroke-width="3" />
<text x="702.78" y="795.6" font-size="10.2" font-weight="bold" text-anchor="end" fill="#111" transform="rotate(-45 702.78 795.6)" >Med</text>
<path d="M694.08 671.91L707.08 671.91M700.58 665.41L700.58 678.41" fill="none" stroke="#2a7a85" stroke-width="1.7" />
<line x1="700.58" y1="702.4" x2="700.58" y2="640.49" stroke="#2a7a85" stroke-width="1.7" />
<line x1="694.08" y1="702.4" x2="707.08" y2="702.4" stroke="#2a7a85" stroke-width="2.1" />
<line x1="694.08" y1="640.49" x2="707.08" y2="640.49" stroke="#2a7a85" stroke-width="2.1" />
<line x1="714.18" y1="776.7" x2="714.18" y2="784.4" stroke="#000" stroke-width="3" />
<text x="716.38" y="795.6" font-size="10.2" font-weight="bold" text-anchor="end" fill="#111" transform="rotate(-45 716.38 795.6)" >High</text>
<path d="M707.68 712.25L720.68 712.25M714.18 705.75L714.18 718.75" fill="none" stroke="#2a7a85" stroke-width="1.7" />
<line x1="714.18" y1="730.54" x2="714.18" y2="693.49" stroke="#2a7a85" stroke-width="1.7" />
<line x1="707.68" y1="730.54" x2="720.68" y2="730.54" stroke="#2a7a85" stroke-width="2.1" />
<line x1="707.68" y1="693.49" x2="720.68" y2="693.49" stroke="#2a7a85" stroke-width="2.1" />
<line x1="737.57" y1="776.7" x2="737.57" y2="784.4" stroke="#000" stroke-width="3" />
<text x="739.77" y="795.6" font-size="10.2" font-weight="bold" text-anchor="end" fill="#111" transform="rotate(-45 739.77 795.6)" >Low</text>
<path d="M731.07 715.13L744.07 728.13M744.07 715.13L731.07 728.13" fill="none" stroke="#f57030" stroke-width="1.6" />
<line x1="737.57" y1="729.13" x2="737.57" y2="711.78" stroke="#f57030" stroke-width="1.6" />
<line x1="731.07" y1="729.13" x2="744.07" y2="729.13" stroke="#f57030" stroke-width="2.1" />
<line x1="731.07" y1="711.78" x2="744.07" y2="711.78" stroke="#f57030" stroke-width="2.1" />
<line x1="751.17" y1="776.7" x2="751.17" y2="784.4" stroke="#000" stroke-width="3" />
<text x="753.37" y="795.6" font-size="10.2" font-weight="bold" text-anchor="end" fill="#111" transform="rotate(-45 753.37 795.6)" >Med</text>
<path d="M744.67 700.12L757.67 713.12M757.67 700.12L744.67 713.12" fill="none" stroke="#f57030" stroke-width="1.6" />
<line x1="751.17" y1="716.94" x2="751.17" y2="694.89" stroke="#f57030" stroke-width="1.6" />
<line x1="744.67" y1="716.94" x2="757.67" y2="716.94" stroke="#f57030" stroke-width="2.1" />
<line x1="744.67" y1="694.89" x2="757.67" y2="694.89" stroke="#f57030" stroke-width="2.1" />
<line x1="764.77" y1="776.7" x2="764.77" y2="784.4" stroke="#000" stroke-width="3" />
<text x="766.97" y="795.6" font-size="10.2" font-weight="bold" text-anchor="end" fill="#111" transform="rotate(-45 766.97 795.6)" >High</text>
<path d="M758.27 663.54L771.27 676.54M771.27 663.54L758.27 676.54" fill="none" stroke="#f57030" stroke-width="1.6" />
<line x1="764.77" y1="698.65" x2="764.77" y2="641.9" stroke="#f57030" stroke-width="1.6" />
<line x1="758.27" y1="698.65" x2="771.27" y2="698.65" stroke="#f57030" stroke-width="2.1" />
<line x1="758.27" y1="641.9" x2="771.27" y2="641.9" stroke="#f57030" stroke-width="2.1" />
<line x1="788.16" y1="776.7" x2="788.16" y2="784.4" stroke="#000" stroke-width="3" />
<text x="790.36" y="795.6" font-size="10.2" font-weight="bold" text-anchor="end" fill="#111" transform="rotate(-45 790.36 795.6)" >Low</text>
<circle cx="788.16" cy="722.57" r="5.9" fill="none" stroke="#f21e2e" stroke-width="1.5"/>
<circle cx="788.16" cy="722.57" r="1.8" fill="#f21e2e" stroke="none" stroke-width="1"/>
<line x1="788.16" y1="746.01" x2="788.16" y2="699.58" stroke="#f21e2e" stroke-width="1.5" />
<line x1="781.66" y1="746.01" x2="794.66" y2="746.01" stroke="#f21e2e" stroke-width="2.1" />
<line x1="781.66" y1="699.58" x2="794.66" y2="699.58" stroke="#f21e2e" stroke-width="2.1" />
<line x1="801.76" y1="776.7" x2="801.76" y2="784.4" stroke="#000" stroke-width="3" />
<text x="803.96" y="795.6" font-size="10.2" font-weight="bold" text-anchor="end" fill="#111" transform="rotate(-45 803.96 795.6)" >Med</text>
<circle cx="801.76" cy="705.21" r="5.9" fill="none" stroke="#f21e2e" stroke-width="1.5"/>
<circle cx="801.76" cy="705.21" r="1.8" fill="#f21e2e" stroke="none" stroke-width="1"/>
<line x1="801.76" y1="725.38" x2="801.76" y2="685.51" stroke="#f21e2e" stroke-width="1.5" />
<line x1="795.26" y1="725.38" x2="808.26" y2="725.38" stroke="#f21e2e" stroke-width="2.1" />
<line x1="795.26" y1="685.51" x2="808.26" y2="685.51" stroke="#f21e2e" stroke-width="2.1" />
<line x1="815.36" y1="776.7" x2="815.36" y2="784.4" stroke="#000" stroke-width="3" />
<text x="817.56" y="795.6" font-size="10.2" font-weight="bold" text-anchor="end" fill="#111" transform="rotate(-45 817.56 795.6)" >High</text>
<circle cx="815.36" cy="710.37" r="5.9" fill="none" stroke="#f21e2e" stroke-width="1.5"/>
<circle cx="815.36" cy="710.37" r="1.8" fill="#f21e2e" stroke="none" stroke-width="1"/>
<line x1="815.36" y1="731.95" x2="815.36" y2="689.74" stroke="#f21e2e" stroke-width="1.5" />
<line x1="808.86" y1="731.95" x2="821.86" y2="731.95" stroke="#f21e2e" stroke-width="2.1" />
<line x1="808.86" y1="689.74" x2="821.86" y2="689.74" stroke="#f21e2e" stroke-width="2.1" />
<line x1="838.75" y1="776.7" x2="838.75" y2="784.4" stroke="#000" stroke-width="3" />
<text x="840.95" y="795.6" font-size="10.2" font-weight="bold" text-anchor="end" fill="#111" transform="rotate(-45 840.95 795.6)" >Low</text>
<line x1="838.75" y1="725.38" x2="838.75" y2="683.64" stroke="#a88ce0" stroke-width="1.3" />
<line x1="832.25" y1="725.38" x2="845.25" y2="725.38" stroke="#a88ce0" stroke-width="1.8" />
<line x1="832.25" y1="683.64" x2="845.25" y2="683.64" stroke="#a88ce0" stroke-width="1.8" />
<rect x="832.95" y="698.47" width="11.6" height="11.6" fill="#fff" stroke="#a88ce0" stroke-width="1.4"/>
<circle cx="838.75" cy="704.27" r="1.3" fill="#a88ce0" stroke="none" stroke-width="1"/>
<line x1="852.35" y1="776.7" x2="852.35" y2="784.4" stroke="#000" stroke-width="3" />
<text x="854.55" y="795.6" font-size="10.2" font-weight="bold" text-anchor="end" fill="#111" transform="rotate(-45 854.55 795.6)" >Med</text>
<line x1="852.35" y1="695.36" x2="852.35" y2="658.78" stroke="#a88ce0" stroke-width="1.3" />
<line x1="845.85" y1="695.36" x2="858.85" y2="695.36" stroke="#a88ce0" stroke-width="1.8" />
<line x1="845.85" y1="658.78" x2="858.85" y2="658.78" stroke="#a88ce0" stroke-width="1.8" />
<rect x="846.55" y="671.27" width="11.6" height="11.6" fill="#fff" stroke="#a88ce0" stroke-width="1.4"/>
<circle cx="852.35" cy="677.07" r="1.3" fill="#a88ce0" stroke="none" stroke-width="1"/>
<line x1="865.95" y1="776.7" x2="865.95" y2="784.4" stroke="#000" stroke-width="3" />
<text x="868.15" y="795.6" font-size="10.2" font-weight="bold" text-anchor="end" fill="#111" transform="rotate(-45 868.15 795.6)" >High</text>
<line x1="865.95" y1="656.9" x2="865.95" y2="565.45" stroke="#a88ce0" stroke-width="1.3" />
<line x1="859.45" y1="656.9" x2="872.45" y2="656.9" stroke="#a88ce0" stroke-width="1.8" />
<line x1="859.45" y1="565.45" x2="872.45" y2="565.45" stroke="#a88ce0" stroke-width="1.8" />
<rect x="860.15" y="604.67" width="11.6" height="11.6" fill="#fff" stroke="#a88ce0" stroke-width="1.4"/>
<circle cx="865.95" cy="610.47" r="1.3" fill="#a88ce0" stroke="none" stroke-width="1"/>
<line x1="889.34" y1="776.7" x2="889.34" y2="784.4" stroke="#000" stroke-width="3" />
<text x="891.54" y="795.6" font-size="10.2" font-weight="bold" text-anchor="end" fill="#111" transform="rotate(-45 891.54 795.6)" >Low</text>
<circle cx="889.34" cy="753.05" r="6.1" fill="none" stroke="#20bcf4" stroke-width="1.6"/>
<path d="M886.05 749.76L892.63 756.34M892.63 749.76L886.05 756.34" fill="none" stroke="#20bcf4" stroke-width="1.3" />
<line x1="889.34" y1="759.15" x2="889.34" y2="746.95" stroke="#20bcf4" stroke-width="1.5" />
<line x1="882.84" y1="759.15" x2="895.84" y2="759.15" stroke="#20bcf4" stroke-width="2.2" />
<line x1="882.84" y1="746.95" x2="895.84" y2="746.95" stroke="#20bcf4" stroke-width="2.2" />
<line x1="902.94" y1="776.7" x2="902.94" y2="784.4" stroke="#000" stroke-width="3" />
<text x="905.14" y="795.6" font-size="10.2" font-weight="bold" text-anchor="end" fill="#111" transform="rotate(-45 905.14 795.6)" >Med</text>
<circle cx="902.94" cy="737.57" r="6.1" fill="none" stroke="#20bcf4" stroke-width="1.6"/>
<path d="M899.65 734.29L906.23 740.86M906.23 734.29L899.65 740.86" fill="none" stroke="#20bcf4" stroke-width="1.3" />
<line x1="902.94" y1="743.2" x2="902.94" y2="731.48" stroke="#20bcf4" stroke-width="1.5" />
<line x1="896.44" y1="743.2" x2="909.44" y2="743.2" stroke="#20bcf4" stroke-width="2.2" />
<line x1="896.44" y1="731.48" x2="909.44" y2="731.48" stroke="#20bcf4" stroke-width="2.2" />
<line x1="916.54" y1="776.7" x2="916.54" y2="784.4" stroke="#000" stroke-width="3" />
<text x="918.74" y="795.6" font-size="10.2" font-weight="bold" text-anchor="end" fill="#111" transform="rotate(-45 918.74 795.6)" >High</text>
<circle cx="916.54" cy="729.6" r="6.1" fill="none" stroke="#20bcf4" stroke-width="1.6"/>
<path d="M913.25 726.31L919.83 732.89M919.83 726.31L913.25 732.89" fill="none" stroke="#20bcf4" stroke-width="1.3" />
<line x1="916.54" y1="735.7" x2="916.54" y2="722.1" stroke="#20bcf4" stroke-width="1.5" />
<line x1="910.04" y1="735.7" x2="923.04" y2="735.7" stroke="#20bcf4" stroke-width="2.2" />
<line x1="910.04" y1="722.1" x2="923.04" y2="722.1" stroke="#20bcf4" stroke-width="2.2" />
<line x1="939.93" y1="776.7" x2="939.93" y2="784.4" stroke="#000" stroke-width="3" />
<text x="942.13" y="795.6" font-size="10.2" font-weight="bold" text-anchor="end" fill="#111" transform="rotate(-45 942.13 795.6)" >Low</text>
<rect x="934.18" y="733.7" width="11.5" height="11.5" fill="none" stroke="#72c6ca" stroke-width="1.5"/>
<path d="M934.93 734.45L944.93 744.45M944.93 734.45L934.93 744.45" fill="none" stroke="#72c6ca" stroke-width="1" />
<line x1="953.53" y1="776.7" x2="953.53" y2="784.4" stroke="#000" stroke-width="3" />
<text x="955.73" y="795.6" font-size="10.2" font-weight="bold" text-anchor="end" fill="#111" transform="rotate(-45 955.73 795.6)" >Med</text>
<rect x="947.78" y="722.44" width="11.5" height="11.5" fill="none" stroke="#72c6ca" stroke-width="1.5"/>
<path d="M948.53 723.19L958.53 733.19M958.53 723.19L948.53 733.19" fill="none" stroke="#72c6ca" stroke-width="1" />
<line x1="953.53" y1="735.7" x2="953.53" y2="720.22" stroke="#72c6ca" stroke-width="1.3" />
<line x1="947.03" y1="735.7" x2="960.03" y2="735.7" stroke="#72c6ca" stroke-width="1.8" />
<line x1="947.03" y1="720.22" x2="960.03" y2="720.22" stroke="#72c6ca" stroke-width="1.8" />
<line x1="967.13" y1="776.7" x2="967.13" y2="784.4" stroke="#000" stroke-width="3" />
<text x="969.33" y="795.6" font-size="10.2" font-weight="bold" text-anchor="end" fill="#111" transform="rotate(-45 969.33 795.6)" >High</text>
<rect x="961.38" y="656.31" width="11.5" height="11.5" fill="none" stroke="#72c6ca" stroke-width="1.5"/>
<path d="M962.13 657.06L972.13 667.06M972.13 657.06L962.13 667.06" fill="none" stroke="#72c6ca" stroke-width="1" />
<line x1="967.13" y1="688.8" x2="967.13" y2="634.86" stroke="#72c6ca" stroke-width="1.3" />
<line x1="960.63" y1="688.8" x2="973.63" y2="688.8" stroke="#72c6ca" stroke-width="1.8" />
<line x1="960.63" y1="634.86" x2="973.63" y2="634.86" stroke="#72c6ca" stroke-width="1.8" />
<line x1="990.52" y1="776.7" x2="990.52" y2="784.4" stroke="#000" stroke-width="3" />
<text x="992.72" y="795.6" font-size="10.2" font-weight="bold" text-anchor="end" fill="#111" transform="rotate(-45 992.72 795.6)" >Low</text>
<polygon points="996.57,723.5 993.55,728.74 987.5,728.74 984.47,723.5 987.5,718.26 993.55,718.26" fill="none" stroke="#f6a488" stroke-width="1.3"/>
<path d="M984.47 723.5L996.57 723.5M987.5 718.26L993.55 728.74M993.55 718.26L987.5 728.74" fill="none" stroke="#f6a488" stroke-width="1" />
<line x1="990.52" y1="731.95" x2="990.52" y2="714.59" stroke="#f6a488" stroke-width="1.3" />
<line x1="984.02" y1="731.95" x2="997.02" y2="731.95" stroke="#f6a488" stroke-width="1.8" />
<line x1="984.02" y1="714.59" x2="997.02" y2="714.59" stroke="#f6a488" stroke-width="1.8" />
<line x1="1004.12" y1="776.7" x2="1004.12" y2="784.4" stroke="#000" stroke-width="3" />
<text x="1006.32" y="795.6" font-size="10.2" font-weight="bold" text-anchor="end" fill="#111" transform="rotate(-45 1006.32 795.6)" >Med</text>
<polygon points="1010.17,704.27 1007.15,709.51 1001.1,709.51 998.07,704.27 1001.1,699.03 1007.15,699.03" fill="none" stroke="#f6a488" stroke-width="1.3"/>
<path d="M998.07 704.27L1010.17 704.27M1001.1 699.03L1007.15 709.51M1007.15 699.03L1001.1 709.51" fill="none" stroke="#f6a488" stroke-width="1" />
<line x1="1004.12" y1="727.72" x2="1004.12" y2="681.76" stroke="#f6a488" stroke-width="1.3" />
<line x1="997.62" y1="727.72" x2="1010.62" y2="727.72" stroke="#f6a488" stroke-width="1.8" />
<line x1="997.62" y1="681.76" x2="1010.62" y2="681.76" stroke="#f6a488" stroke-width="1.8" />
<line x1="1017.72" y1="776.7" x2="1017.72" y2="784.4" stroke="#000" stroke-width="3" />
<text x="1019.92" y="795.6" font-size="10.2" font-weight="bold" text-anchor="end" fill="#111" transform="rotate(-45 1019.92 795.6)" >High</text>
<polygon points="1023.77,641.9 1020.75,647.14 1014.7,647.14 1011.67,641.9 1014.7,636.66 1020.75,636.66" fill="none" stroke="#f6a488" stroke-width="1.3"/>
<path d="M1011.67 641.9L1023.77 641.9M1014.7 636.66L1020.75 647.14M1020.75 636.66L1014.7 647.14" fill="none" stroke="#f6a488" stroke-width="1" />
<line x1="1017.72" y1="663" x2="1017.72" y2="620.79" stroke="#f6a488" stroke-width="1.3" />
<line x1="1011.22" y1="663" x2="1024.22" y2="663" stroke="#f6a488" stroke-width="1.8" />
<line x1="1011.22" y1="620.79" x2="1024.22" y2="620.79" stroke="#f6a488" stroke-width="1.8" />
<path d="M178.2 704.6V528.7H210.7V602.7" fill="none" stroke="#1a1a1a" stroke-width="1.8" stroke-linejoin="round"/>
<path d="M194.8 504.2L194.8 515.4M189.95 507L199.65 512.6M199.65 507L189.95 512.6" fill="none" stroke="#111" stroke-width="2.1" stroke-linecap="round"/>
<path d="M330.3 704.6V528.6H359.2V569.1" fill="none" stroke="#1a1a1a" stroke-width="1.8" stroke-linejoin="round"/>
<path d="M338.5 504.2L338.5 515.4M333.65 507L343.35 512.6M343.35 507L333.65 512.6" fill="none" stroke="#111" stroke-width="2.1" stroke-linecap="round"/>
<path d="M353 504.2L353 515.4M348.15 507L357.85 512.6M357.85 507L348.15 512.6" fill="none" stroke="#111" stroke-width="2.1" stroke-linecap="round"/>
<path d="M387.6 705.3V528.6H410.7V600.9" fill="none" stroke="#1a1a1a" stroke-width="1.8" stroke-linejoin="round"/>
<path d="M399.3 504.3L399.3 515.5M394.45 507.1L404.15 512.7M404.15 507.1L394.45 512.7" fill="none" stroke="#111" stroke-width="2.1" stroke-linecap="round"/>
<line x1="377.8" y1="705.3" x2="401.3" y2="705.3" stroke="#1a1a1a" stroke-width="1.8" />
<path d="M481.3 705.3V528.6H512.7V610.6" fill="none" stroke="#1a1a1a" stroke-width="1.8" stroke-linejoin="round"/>
<path d="M497.6 504.3L497.6 515.5M492.75 507.1L502.45 512.7M502.45 507.1L492.75 512.7" fill="none" stroke="#111" stroke-width="2.1" stroke-linecap="round"/>
<path d="M534.5 672.2V528.5H559.4V562.8" fill="none" stroke="#1a1a1a" stroke-width="1.8" stroke-linejoin="round"/>
<path d="M540.6 504.2L540.6 515.4M535.75 507L545.45 512.6M545.45 507L535.75 512.6" fill="none" stroke="#111" stroke-width="2.1" stroke-linecap="round"/>
<path d="M555.1 504.2L555.1 515.4M550.25 507L559.95 512.6M559.95 507L550.25 512.6" fill="none" stroke="#111" stroke-width="2.1" stroke-linecap="round"/>
<path d="M836.5 670.2V528.7H863.3V551.9" fill="none" stroke="#1a1a1a" stroke-width="1.8" stroke-linejoin="round"/>
<path d="M843.3 504.4L843.3 515.6M838.45 507.2L848.15 512.8M848.15 507.2L838.45 512.8" fill="none" stroke="#111" stroke-width="2.1" stroke-linecap="round"/>
<path d="M858 504.4L858 515.6M853.15 507.2L862.85 512.8M862.85 507.2L853.15 512.8" fill="none" stroke="#111" stroke-width="2.1" stroke-linecap="round"/>
<path d="M942.4 701.8V527.6H969V551.9" fill="none" stroke="#1a1a1a" stroke-width="1.8" stroke-linejoin="round"/>
<path d="M956.5 504.4L956.5 515.6M951.65 507.2L961.35 512.8M961.35 507.2L951.65 512.8" fill="none" stroke="#111" stroke-width="2.1" stroke-linecap="round"/>
<path d="M990.8 702.5V528.5H1017.4V551.9" fill="none" stroke="#1a1a1a" stroke-width="1.8" stroke-linejoin="round"/>
<path d="M1005.2 505.6L1005.2 516.8M1000.35 508.4L1010.05 514M1010.05 508.4L1000.35 514" fill="none" stroke="#111" stroke-width="2.1" stroke-linecap="round"/>
<path d="M552.7 488.2H564.5M552.7 493.1H564.5" fill="none" stroke="#111" stroke-width="1.5" />
<path d="M557.8 483.4L554.4 497.4M563.2 483.4L559.8 497.4" fill="none" stroke="#111" stroke-width="1.4" />
<path d="M854.1 488.4H865.9M854.1 493.3H865.9" fill="none" stroke="#111" stroke-width="1.5" />
<path d="M859.2 483.6L855.8 497.6M864.6 483.6L861.2 497.6" fill="none" stroke="#111" stroke-width="1.4" />
<text x="28.6" y="601.4" font-size="22.4" font-weight="bold" text-anchor="middle" fill="#111" textLength="327" lengthAdjust="spacingAndGlyphs" transform="rotate(-90 28.6 601.4)" >Cell Count / Basal Media Count</text>
<text x="548.6" y="828.5" font-size="21.5" font-weight="bold" text-anchor="middle" fill="#000" textLength="53.2" lengthAdjust="spacingAndGlyphs" >Dose</text>
<text x="92.4" y="845.1" font-size="12.2" font-weight="normal" text-anchor="middle" fill="#222" textLength="47.3" lengthAdjust="spacingAndGlyphs" stroke="#222" stroke-width="0.25">GF-free</text>
<text x="141.5" y="845.1" font-size="12.2" font-weight="normal" text-anchor="middle" fill="#222" textLength="37.2" lengthAdjust="spacingAndGlyphs" stroke="#222" stroke-width="0.25">+Mito</text>
<text x="188.7" y="845.1" font-size="12.2" font-weight="normal" text-anchor="middle" fill="#222" textLength="33.4" lengthAdjust="spacingAndGlyphs" stroke="#222" stroke-width="0.25">+NGF</text>
<text x="250.6" y="845.1" font-size="12.2" font-weight="normal" text-anchor="middle" fill="#222" textLength="47.3" lengthAdjust="spacingAndGlyphs" stroke="#222" stroke-width="0.25">GF-free</text>
<text x="300.1" y="845.1" font-size="12.2" font-weight="normal" text-anchor="middle" fill="#222" textLength="36.6" lengthAdjust="spacingAndGlyphs" stroke="#222" stroke-width="0.25">+Mito</text>
<text x="346.9" y="845.1" font-size="12.2" font-weight="normal" text-anchor="middle" fill="#222" textLength="33.1" lengthAdjust="spacingAndGlyphs" stroke="#222" stroke-width="0.25">+NGF</text>
<text x="407.4" y="843.7" font-size="12.2" font-weight="normal" text-anchor="middle" fill="#222" textLength="47.8" lengthAdjust="spacingAndGlyphs" stroke="#222" stroke-width="0.25">GF-free</text>
<text x="456.6" y="843.7" font-size="12.2" font-weight="normal" text-anchor="middle" fill="#222" textLength="36.8" lengthAdjust="spacingAndGlyphs" stroke="#222" stroke-width="0.25">+Mito</text>
<text x="503.5" y="843.7" font-size="12.2" font-weight="normal" text-anchor="middle" fill="#222" textLength="33.1" lengthAdjust="spacingAndGlyphs" stroke="#222" stroke-width="0.25">+NGF</text>
<text x="557.3" y="843.5" font-size="12.2" font-weight="normal" text-anchor="middle" fill="#222" textLength="48" lengthAdjust="spacingAndGlyphs" stroke="#222" stroke-width="0.25">GF-free</text>
<text x="606.6" y="843.5" font-size="12.2" font-weight="normal" text-anchor="middle" fill="#222" textLength="37" lengthAdjust="spacingAndGlyphs" stroke="#222" stroke-width="0.25">+Mito</text>
<text x="652.5" y="843.5" font-size="12.2" font-weight="normal" text-anchor="middle" fill="#222" textLength="32.9" lengthAdjust="spacingAndGlyphs" stroke="#222" stroke-width="0.25">+NGF</text>
<text x="708" y="842.1" font-size="12.2" font-weight="normal" text-anchor="middle" fill="#222" textLength="47.5" lengthAdjust="spacingAndGlyphs" stroke="#222" stroke-width="0.25">GF-free</text>
<text x="758.4" y="842.1" font-size="12.2" font-weight="normal" text-anchor="middle" fill="#222" textLength="37.3" lengthAdjust="spacingAndGlyphs" stroke="#222" stroke-width="0.25">+Mito</text>
<text x="804.3" y="842.1" font-size="12.2" font-weight="normal" text-anchor="middle" fill="#222" textLength="33.2" lengthAdjust="spacingAndGlyphs" stroke="#222" stroke-width="0.25">+NGF</text>
<text x="853.2" y="840.8" font-size="11.8" font-weight="normal" text-anchor="middle" fill="#222" textLength="45.4" lengthAdjust="spacingAndGlyphs" stroke="#222" stroke-width="0.25">Laminin</text>
<text x="899.7" y="840.8" font-size="11.8" font-weight="normal" text-anchor="middle" fill="#222" textLength="46.5" lengthAdjust="spacingAndGlyphs" stroke="#222" stroke-width="0.25">Matrigel</text>
<text x="955" y="840.8" font-size="11.8" font-weight="normal" text-anchor="middle" fill="#222" textLength="44.5" lengthAdjust="spacingAndGlyphs" stroke="#222" stroke-width="0.25">Laminin</text>
<text x="1006.2" y="840.8" font-size="11.8" font-weight="normal" text-anchor="middle" fill="#222" textLength="47.4" lengthAdjust="spacingAndGlyphs" stroke="#222" stroke-width="0.25">Matrigel</text>
<text x="144" y="870" font-size="16.8" font-weight="bold" text-anchor="middle" fill="#111" textLength="74.2" lengthAdjust="spacingAndGlyphs" >Fibronectin</text>
<text x="300.8" y="870" font-size="16.8" font-weight="bold" text-anchor="middle" fill="#111" textLength="55.4" lengthAdjust="spacingAndGlyphs" >Matrigel</text>
<text x="452.2" y="870" font-size="16.8" font-weight="bold" text-anchor="middle" fill="#111" textLength="78.4" lengthAdjust="spacingAndGlyphs" >Collagen IV</text>
<text x="602.3" y="870" font-size="16.8" font-weight="bold" text-anchor="middle" fill="#111" textLength="61.7" lengthAdjust="spacingAndGlyphs" >Laminin</text>
<text x="746.9" y="870" font-size="16.8" font-weight="bold" text-anchor="middle" fill="#111" textLength="86.2" lengthAdjust="spacingAndGlyphs" >Suspension</text>
<text x="878.7" y="870.6" font-size="16.5" font-weight="normal" text-anchor="middle" fill="#000" textLength="25.2" lengthAdjust="spacingAndGlyphs" stroke="#000" stroke-width="0.35">iOL</text>
<text x="979.6" y="867.7" font-size="16.5" font-weight="normal" text-anchor="middle" fill="#000" textLength="32.2" lengthAdjust="spacingAndGlyphs" stroke="#000" stroke-width="0.35">OPC</text>
<line x1="212" y1="837.3" x2="212" y2="878.4" stroke="#9a9a9a" stroke-width="2.5" stroke-dasharray="6.2 6"/>
<line x1="372.3" y1="837.3" x2="372.3" y2="878.4" stroke="#9a9a9a" stroke-width="2.5" stroke-dasharray="6.2 6"/>
<line x1="526.4" y1="837.3" x2="526.4" y2="878.4" stroke="#9a9a9a" stroke-width="2.5" stroke-dasharray="6.2 6"/>
<line x1="675.2" y1="837.3" x2="675.2" y2="878.4" stroke="#9a9a9a" stroke-width="2.5" stroke-dasharray="6.2 6"/>
<line x1="927.3" y1="837.3" x2="927.3" y2="878.4" stroke="#9a9a9a" stroke-width="2.5" stroke-dasharray="6.2 6"/>
<line x1="826.3" y1="837" x2="826.3" y2="878.4" stroke="#000" stroke-width="2.6" stroke-dasharray="6.2 6"/>
</svg>
</body></html>
